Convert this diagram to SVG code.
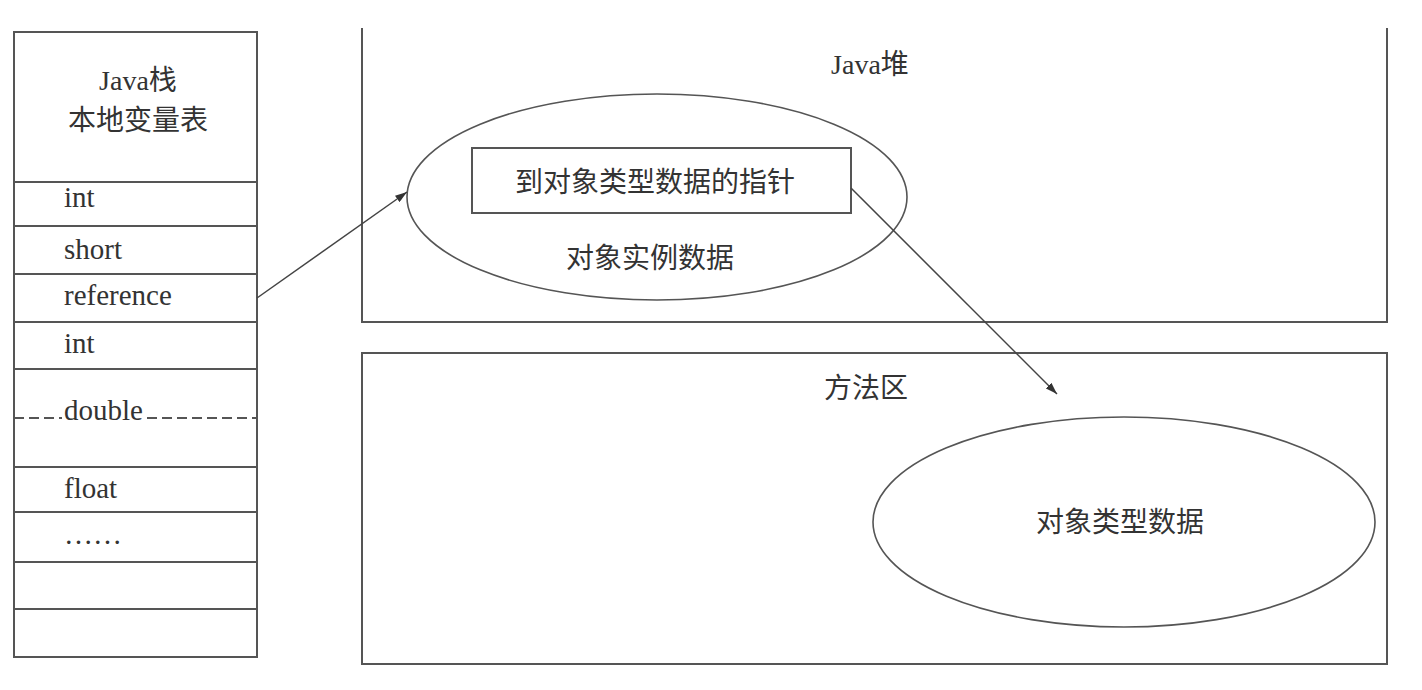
<svg xmlns="http://www.w3.org/2000/svg" width="1422" height="690" viewBox="0 0 1422 690">
<style>
.box{fill:none;stroke:#555;stroke-width:2}
.ell{fill:none;stroke:#555;stroke-width:1.6}
.t{font-family:"Liberation Serif","Noto Sans CJK SC",serif;font-size:28px;fill:#333}
.l{font-size:29px}
.c{text-anchor:middle}
.conn{stroke:#444;stroke-width:1.5;fill:none;marker-end:url(#ah)}
</style>
<defs>
<marker id="ah" viewBox="0 0 12 8" refX="12" refY="4" markerWidth="12" markerHeight="8" markerUnits="userSpaceOnUse" orient="auto">
<path d="M0,0 L12,4 L0,8 z" fill="#333"/>
</marker>
</defs>
<rect width="1422" height="690" fill="#fff"/>
<g id="java-stack">
<rect class="box" x="14" y="32" width="243" height="625"/>
<line class="box" x1="14" y1="182" x2="257" y2="182"/>
<line class="box" x1="14" y1="226" x2="257" y2="226"/>
<line class="box" x1="14" y1="274" x2="257" y2="274"/>
<line class="box" x1="14" y1="322" x2="257" y2="322"/>
<line class="box" x1="14" y1="369" x2="257" y2="369"/>
<line class="box" x1="14" y1="467" x2="257" y2="467"/>
<line class="box" x1="14" y1="512" x2="257" y2="512"/>
<line class="box" x1="14" y1="562" x2="257" y2="562"/>
<line class="box" x1="14" y1="609" x2="257" y2="609"/>
<line x1="14" y1="418" x2="62" y2="418" stroke="#555" stroke-width="2" stroke-dasharray="10,5"/>
<line x1="147" y1="418" x2="257" y2="418" stroke="#555" stroke-width="2" stroke-dasharray="10,5"/>
<text class="t c" x="138" y="90">Java栈</text>
<text class="t c" x="138" y="130">本地变量表</text>
<text class="t l" x="64" y="207">int</text>
<text class="t l" x="64" y="259">short</text>
<text class="t l" x="64" y="305">reference</text>
<text class="t l" x="64" y="353">int</text>
<text class="t l" x="64" y="420">double</text>
<text class="t l" x="64" y="498">float</text>
<text class="t l" x="64" y="544">……</text>
</g>
<g id="java-heap">
<path class="box" d="M362,28 V322 H1387 V28"/>
<text class="t c" x="870" y="74">Java堆</text>
</g>
<g id="object-instance">
<ellipse class="ell" cx="657" cy="197" rx="250" ry="103"/>
<text class="t c" x="650" y="268">对象实例数据</text>
</g>
<g id="type-pointer">
<rect class="box" x="472" y="148" width="379" height="65"/>
<text class="t c" x="655" y="192">到对象类型数据的指针</text>
</g>
<g id="method-area">
<rect class="box" x="362" y="353" width="1025" height="311"/>
<text class="t c" x="866" y="398">方法区</text>
</g>
<g id="type-data">
<ellipse class="ell" cx="1124" cy="522" rx="251" ry="105"/>
<text class="t c" x="1120" y="532">对象类型数据</text>
</g>
<g id="connectors">
<line class="conn" x1="257" y1="298" x2="407" y2="192"/>
<line class="conn" x1="851" y1="188" x2="1057" y2="394"/>
</g>
</svg>
